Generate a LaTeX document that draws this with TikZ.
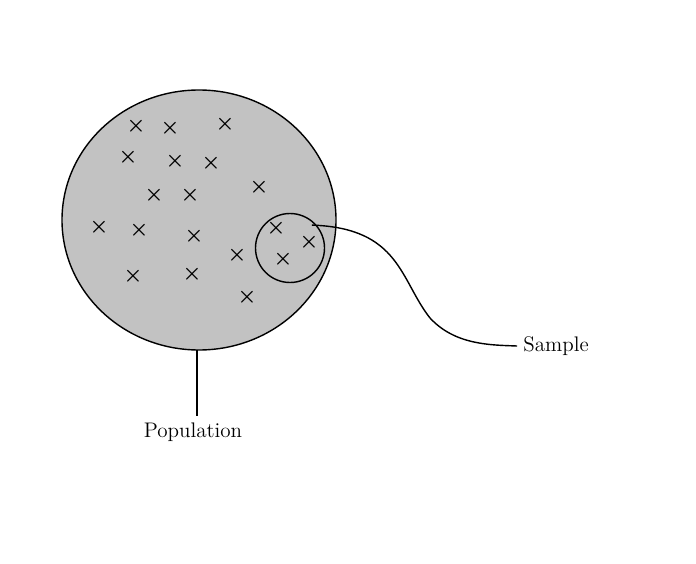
\documentclass[tikz,border=0pt]{standalone}
\usepackage{amsmath,amssymb}
\usepackage{tikz}
\usetikzlibrary{positioning}
\begin{document}
\begin{tikzpicture}
	[
		x=0.02cm, y=-0.02cm,
		M/.style = {inner sep=0pt, font=\large},
		L/.style = {rectangle, align=center, draw=none, fill=none, font=\large},
	]

	\useasboundingbox (0,0) rectangle (696,564);

	% population and sample
	\draw[thick, fill=black!24] (199,220) ellipse [x radius=137, y radius=130];
	\node[circle, draw, thick, minimum size=69*0.02cm, inner sep=0pt] (smp) at (290,248) {};
	\coordinate (pb) at (197,350);

	% marks
	\foreach \i/\px/\py in {1/136/126,2/170/128,3/225/124,4/128/157,5/175/161,6/211/163,
		7/259/187,8/154/195,9/190/195,10/99/227,11/139/230,12/194/236,13/237/255,
		14/133/276,15/192/274,16/247/297,17/276/228,18/309/242,19/283/259}
	\node[M] (m\i) at (\px,\py) {$\boldsymbol{\times}$};

	% labels
	\node[L] (pop) at (193,432) {Population};
	\node[L] (sam) at (556,346) {Sample};

	\draw[thick] (pb) -- (pop.north -| pb);
	\draw[thick] (smp.north east) ++(-3,2) coordinate (sa)
		.. controls (400,228) and (400,280) .. (430,318)
		.. controls (455,345) and (490,345) .. (sam.west);

\end{tikzpicture}
\end{document}
